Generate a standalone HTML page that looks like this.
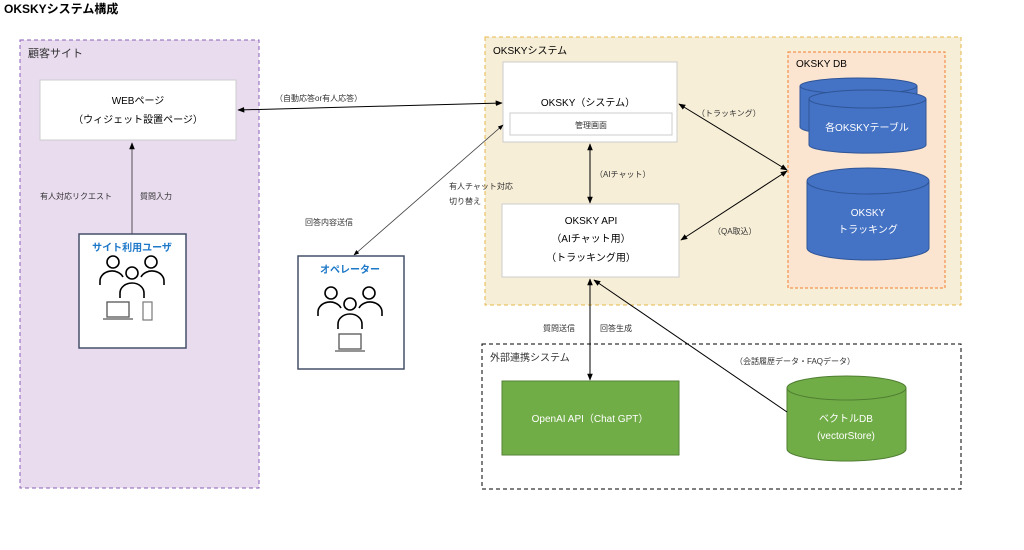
<!DOCTYPE html>
<html><head><meta charset="utf-8"><style>
html,body{margin:0;padding:0;background:#fff;}
svg{display:block;font-family:"Liberation Sans","Noto Sans CJK JP",sans-serif;}
</style></head><body>
<svg width="1024" height="550" viewBox="0 0 1024 550" xmlns="http://www.w3.org/2000/svg">
<defs>
<marker id="a" viewBox="0 0 10 10" refX="9" refY="5" markerWidth="7" markerHeight="7" orient="auto-start-reverse"><path d="M0,1 L10,5 L0,9 z" fill="#000"/></marker>
<g id="ppl" fill="none" stroke="#000" stroke-width="1.6">
<circle cx="-19" cy="0" r="6"/><circle cx="19" cy="0" r="6"/><circle cx="0" cy="11" r="6"/>
<path d="M-32,23 v-4 a12,10 0 0 1 23,-4"/><path d="M9,15 a12,10 0 0 1 23,4 v4"/>
<path d="M-12,36 v-5 a12,10 0 0 1 24,0 v5"/>
</g>
<g id="lap" fill="none" stroke="#555" stroke-width="1.3">
<rect x="-11" y="0" width="22" height="15"/><path d="M-15,17 h30"/>
</g>
</defs>
<text x="4" y="13" font-size="12" font-weight="bold">OKSKYシステム構成</text>

<rect x="20" y="40" width="239" height="448" fill="#e9dcef" stroke="#8a5fb8" stroke-dasharray="4,3"/>
<text x="28" y="57" font-size="11" fill="#333">顧客サイト</text>
<rect x="40" y="80" width="196" height="60" fill="#fff" stroke="#ccc"/>
<text x="138" y="104" font-size="10" text-anchor="middle">WEBページ</text>
<text x="138" y="123" font-size="10" text-anchor="middle">（ウィジェット設置ページ）</text>
<line x1="132" y1="234" x2="132" y2="143" stroke="#555" marker-end="url(#a)"/>
<text x="40" y="199" font-size="8" fill="#333">有人対応リクエスト</text>
<text x="140" y="199" font-size="8" fill="#333">質問入力</text>
<rect x="79" y="234" width="107" height="114" fill="#fff" stroke="#45506a" stroke-width="1.5"/>
<text x="132" y="251" font-size="10" font-weight="bold" fill="#1e78c8" text-anchor="middle">サイト利用ユーザ</text>
<use href="#ppl" x="132" y="262"/>
<use href="#lap" x="118" y="302"/>
<rect x="143" y="302" width="9" height="18" fill="none" stroke="#777" stroke-width="1.2"/>

<rect x="298" y="256" width="106" height="113" fill="#fff" stroke="#45506a" stroke-width="1.5"/>
<text x="350" y="273" font-size="10" font-weight="bold" fill="#1e78c8" text-anchor="middle">オペレーター</text>
<use href="#ppl" x="350" y="293"/>
<use href="#lap" x="350" y="334"/>
<text x="305" y="225" font-size="8" fill="#333">回答内容送信</text>

<rect x="485" y="37" width="476" height="268" fill="#f7eed7" stroke="#e6b84a" stroke-dasharray="4,3"/>
<text x="493" y="54" font-size="10">OKSKYシステム</text>
<rect x="503" y="62" width="174" height="80" fill="#fff" stroke="#ccc"/>
<text x="588" y="106" font-size="10" text-anchor="middle">OKSKY（システム）</text>
<rect x="510" y="113" width="162" height="22" fill="#fff" stroke="#ccc"/>
<text x="591" y="128" font-size="8" fill="#333" text-anchor="middle">管理画面</text>
<rect x="502" y="204" width="177" height="73" fill="#fff" stroke="#ccc"/>
<text x="591" y="224" font-size="10" text-anchor="middle">OKSKY API</text>
<text x="591" y="242" font-size="10" text-anchor="middle">（AIチャット用）</text>
<text x="591" y="261" font-size="10" text-anchor="middle">（トラッキング用）</text>
<text x="449" y="189" font-size="8" fill="#333">有人チャット対応</text>
<text x="449" y="204" font-size="8" fill="#333">切り替え</text>
<text x="595" y="177" font-size="8" fill="#333">（AIチャット）</text>
<text x="697" y="116" font-size="8" fill="#333">（トラッキング）</text>
<text x="713" y="234" font-size="8" fill="#333">（QA取込）</text>

<rect x="788" y="52" width="157" height="236" fill="#fbe4d0" stroke="#f08030" stroke-dasharray="3,2"/>
<text x="796" y="67" font-size="10">OKSKY DB</text>
<g fill="#4472c4" stroke="#2f5597" stroke-width="1">
<path d="M800,86 v41 a58,8 0 0 0 117,0 v-41"/><ellipse cx="858.5" cy="86" rx="58.5" ry="8"/>
<path d="M809,99 v46 a58,8 0 0 0 117,0 v-46"/><ellipse cx="867.5" cy="99" rx="58.5" ry="9"/>
<path d="M807,181 v67 a61,12 0 0 0 122,0 v-67"/><ellipse cx="868" cy="181" rx="61" ry="13"/>
</g>
<text x="867" y="131" font-size="10" fill="#fff" text-anchor="middle">各OKSKYテーブル</text>
<text x="868" y="216" font-size="10" fill="#fff" text-anchor="middle">OKSKY</text>
<text x="868" y="233" font-size="10" fill="#fff" text-anchor="middle">トラッキング</text>

<rect x="482" y="344" width="479" height="145" fill="#fff" stroke="#000" stroke-dasharray="4,3"/>
<text x="490" y="361" font-size="10" fill="#333">外部連携システム</text>
<rect x="502" y="381" width="177" height="74" fill="#70ad47" stroke="#548235"/>
<text x="590" y="422" font-size="10" fill="#fff" text-anchor="middle">OpenAI API（Chat GPT）</text>
<g fill="#70ad47" stroke="#507e32">
<path d="M787,388 v61 a59.5,12 0 0 0 119,0 v-61"/><ellipse cx="846.5" cy="388" rx="59.5" ry="12"/>
</g>
<text x="846" y="422" font-size="10" fill="#fff" text-anchor="middle">ベクトルDB</text>
<text x="846" y="439" font-size="10" fill="#fff" text-anchor="middle">(vectorStore)</text>
<text x="543" y="331" font-size="8" fill="#333">質問送信</text>
<text x="600" y="331" font-size="8" fill="#333">回答生成</text>
<text x="735" y="364" font-size="8" fill="#333">（会話履歴データ・FAQデータ）</text>

<g stroke="#000" stroke-width="1" fill="none">
<line x1="238" y1="110" x2="502" y2="103" marker-start="url(#a)" marker-end="url(#a)"/>
<text x="275" y="101" font-size="8" fill="#333" stroke="none">（自動応答or有人応答）</text>
<line x1="354" y1="255" x2="503" y2="125" stroke="#444" stroke-width="0.8" marker-start="url(#a)" marker-end="url(#a)"/>
<line x1="590" y1="144" x2="590" y2="203" marker-start="url(#a)" marker-end="url(#a)"/>
<line x1="679" y1="104" x2="787" y2="170" marker-start="url(#a)" marker-end="url(#a)"/>
<line x1="681" y1="240" x2="787" y2="171" marker-start="url(#a)" marker-end="url(#a)"/>
<line x1="590" y1="279" x2="590" y2="380" marker-start="url(#a)" marker-end="url(#a)"/>
<line x1="787" y1="412" x2="594" y2="280" marker-end="url(#a)"/>
</g>
</svg>
</body></html>
